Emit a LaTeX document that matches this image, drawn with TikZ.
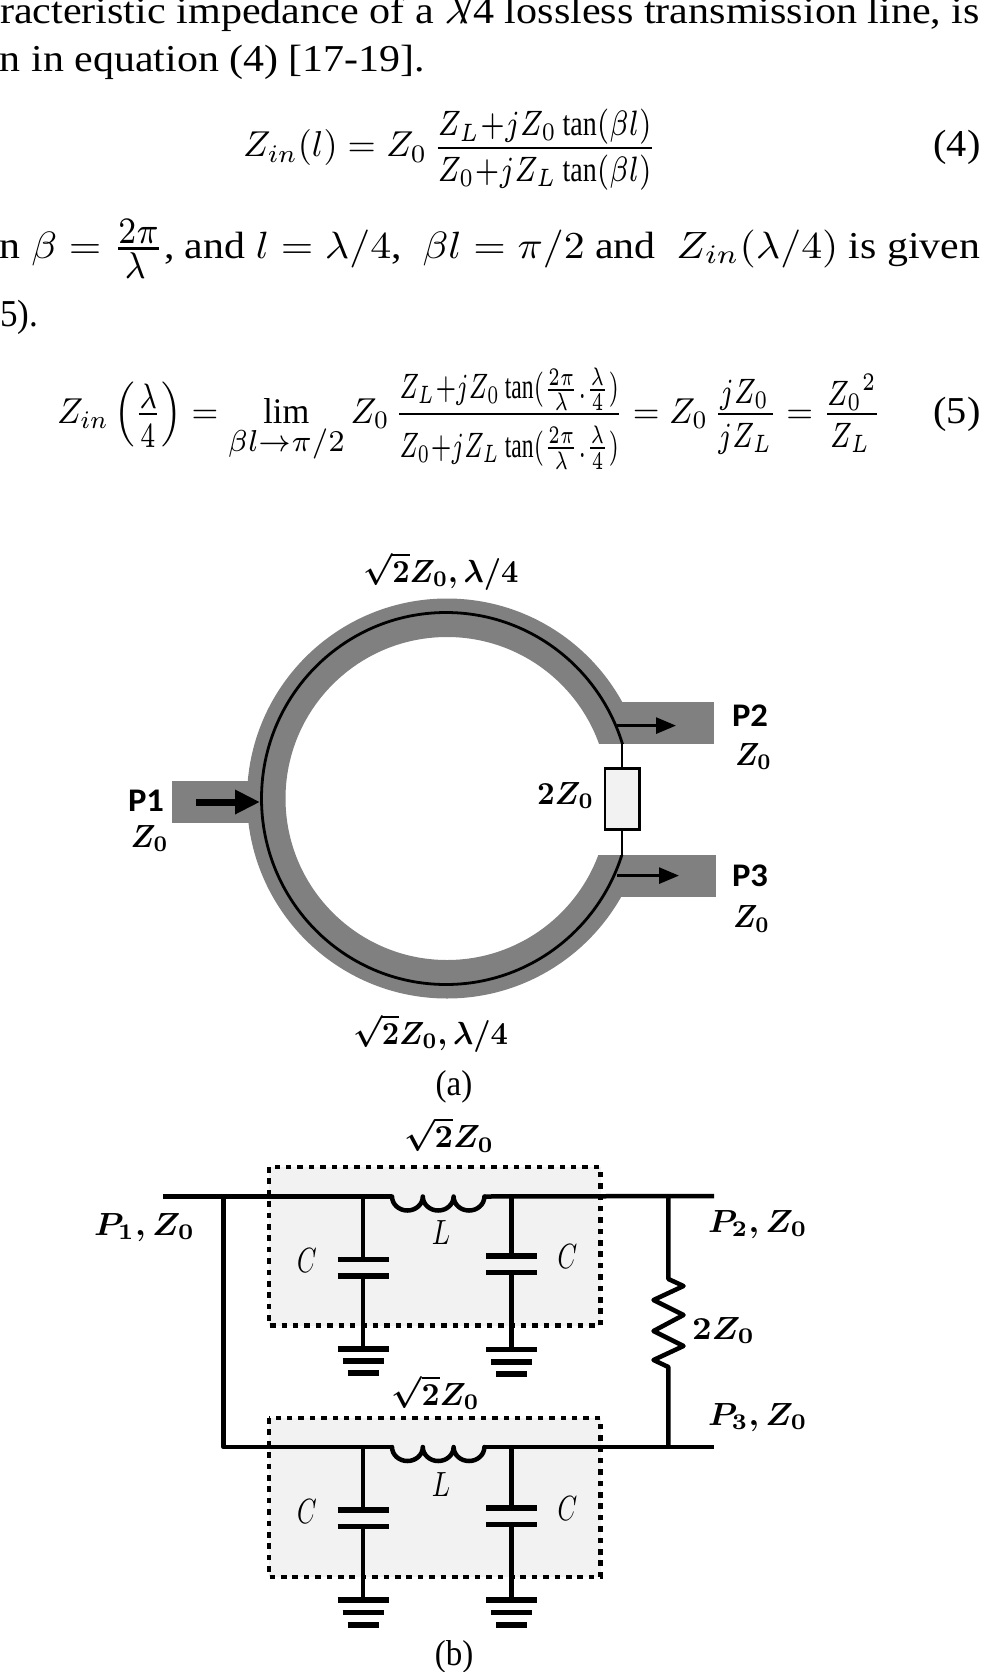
\documentclass[tikz,border=0pt]{standalone}
\usepackage{graphicx}
\usepackage{amsmath}
\usepackage{fontspec}
\setmainfont{Liberation Serif}
\newfontfamily\calib{Carlito}
\usetikzlibrary{arrows.meta,calc}
\newcommand\fitw[2]{\resizebox{#1pt}{\vs\height}{#2}}
% fraction with tall narrow terms: [strut height of the denominator], hscale, numerator, denominator
\newcommand\tallfrac[4][6pt]{\genfrac{}{}{0.6pt}{}{\scalebox{#2}[1.4]{$\scriptstyle #3$}}{\scalebox{#2}[1.4]{$\scriptstyle\rule{0pt}{#1}#4$}}}
\definecolor{strip}{HTML}{808080}
\definecolor{boxfill}{HTML}{F2F2F2}
\tikzset{
  txt/.style={inner sep=0pt,outer sep=0pt,anchor=base west,text=black,font=\def\vs{3.8}},
  eqn/.style={txt,font=\def\vs{3.6}},
  lab/.style={txt,font=\def\vs{3.2}\boldmath},
  port/.style={txt,font=\def\vs{3.3}\calib\bfseries},
  capt/.style={inner sep=0pt,outer sep=0pt,anchor=center},
  stub/.style={fill=strip,draw=none},
  wire/.style={line width=4.5pt,black},
  plate/.style={line width=5.5pt,black},
  dotbox/.style={fill=boxfill,draw=none},
  dotline/.style={draw=black,line width=4.5pt,dash pattern=on 5.5pt off 5.9pt},
  thinline/.style={line width=2.8pt,black},
  bigarrow/.style={line width=7pt,-{Triangle[length=25pt,width=23pt]}},
  smallarrow/.style={line width=2.8pt,-{Triangle[length=20pt,width=16pt]}},
}
% capacitor + ground branch: name, x, wire y, plate1 y, plate2 y, ground y1, y2, y3
\newcommand\capbranch[8]{%
  \coordinate (#1t) at (#2,#3);
  \coordinate (#1a) at (#2,#4);
  \coordinate (#1b) at (#2,#5);
  \coordinate (#1g) at (#2,#6);
  \draw[wire] (#1t) -- (#1a);
  \draw[wire] (#1b) -- (#1g);
  \draw[plate] ($(#1a)+(-25.5,0)$) -- ($(#1a)+(25.5,0)$);
  \draw[plate] ($(#1b)+(-25.5,0)$) -- ($(#1b)+(25.5,0)$);
  \draw[plate] ($(#1g)+(-25.5,0)$) -- ($(#1g)+(25.5,0)$);
  \draw[plate] (#2-20.5,#7) -- (#2+20.5,#7);
  \draw[plate] (#2-15.5,#8) -- (#2+15.5,#8);
}
\newcommand\inductor[1]{%
  \draw[wire,line cap=round,line join=round] (#1a) arc[start angle=180,end angle=0,x radius=15.4,y radius=14]
     arc[start angle=180,end angle=0,x radius=15.4,y radius=14]
     arc[start angle=180,end angle=0,x radius=15.4,y radius=14] coordinate (#1b);
}
\begin{document}
\begin{tikzpicture}[x=1pt,y=-1pt]
\useasboundingbox (0,0) rectangle (989,1672);
\clip (0,0) rectangle (989,1672);
\fill[white] (0,0) rectangle (989,1672);

% ---------- running text and equations
\node[txt] (l1) at (0,24) {\fitw{980}{racteristic impedance of a $\lambda$\kern-2pt/\kern0.3pt4 lossless transmission line, is}};
\node[txt] (l2) at (0,71.5) {\fitw{425}{n in equation (4) [17-19].}};
\node[eqn] (e4) at (243,157) {\fitw{413}{$Z_{in}(l)=Z_0\,\tallfrac{1.1}{Z_L+jZ_0\tan(\beta l)}{Z_0+jZ_L\tan(\beta l)}$}};
\node[txt] (n4) at (933.5,157) {\fitw{47}{(4)}};
\node[txt] (l3) at (0,258) {\fitw{980}{n $\beta=\tallfrac[5pt]{1.1}{2\pi}{\lambda}$, and $l=\lambda/4$,\ \ $\beta l=\pi/2$ and\ \ $Z_{in}(\lambda/4)$ is given}};
\node[txt] (l4) at (0,326) {\fitw{38}{5).}};
\node[eqn] (e5) at (57,423) {\fitw{824}{$Z_{in}\left(\tallfrac{1.1}{\lambda}{4}\right)=\lim\limits_{\scalebox{1.2}{$\scriptstyle\beta l\to\pi/2$}}Z_0\,\tallfrac[7.9pt]{0.98}{Z_L+jZ_0\tan(\frac{2\pi}{\lambda}.\frac{\lambda}{4})}{Z_0+jZ_L\tan(\frac{2\pi}{\lambda}.\frac{\lambda}{4})}=Z_0\,\tallfrac{1.1}{jZ_0}{jZ_L}=\tallfrac{1.1}{{Z_0}^{2}}{Z_L}$}};
\node[txt] (n5) at (933.5,423) {\fitw{47}{(5)}};

% ---------- (a) ring
\coordinate (ringc) at (447,798.5);
\fill[stub,even odd rule] (ringc) circle[radius=200] (ringc) circle[radius=161.5];
\fill[stub] (172,780.5) rectangle (252,822.5);
\fill[stub] (616,701.5) rectangle (713.5,743.5);
\fill[stub] (616,854.8) rectangle (716,897);
\draw[thinline] (446,798.5) ellipse[x radius=184.5,y radius=186];
\fill[white] (585,743.5) rectangle (660,854.8);
\coordinate (ringup) at (622,743.5);
\coordinate (ringdn) at (622,854.8);
\node[draw=black,line width=2.5pt,fill=boxfill,minimum width=34.5pt,minimum height=61pt,inner sep=0pt] (rz) at (622,799) {};
\draw[thinline] (ringup) -- (rz.north);
\draw[thinline] (rz.south) -- (ringdn);
\coordinate (a1s) at (196,802); \coordinate (a1e) at (260,802);
\coordinate (a2s) at (617,725.6); \coordinate (a2e) at (676,725.6);
\coordinate (a3s) at (617,875.6); \coordinate (a3e) at (679,875.6);
\draw[bigarrow] (a1s) -- (a1e);
\draw[smallarrow] (a2s) -- (a2e);
\draw[smallarrow] (a3s) -- (a3e);

\node[lab] (ringt) at (363.5,582) {\fitw{155}{$\sqrt{2}Z_0,\lambda/4$}};
\node[lab] (ringb) at (353,1044) {\fitw{155}{$\sqrt{2}Z_0,\lambda/4$}};
\node[port] (p1) at (128,811) {\fitw{36}{P1}};
\node[lab] (z1) at (130.5,847) {\fitw{38}{$Z_0$}};
\node[port] (p2) at (732,726.5) {\fitw{36}{P2}};
\node[lab] (z2) at (735,765) {\fitw{37}{$Z_0$}};
\node[port] (p3) at (732,886) {\fitw{36}{P3}};
\node[lab] (z3) at (733,927.5) {\fitw{37}{$Z_0$}};
\node[lab] (rzl) at (537,804) {\fitw{57}{$2Z_0$}};
\node[capt] (capa) at (454,1087) {\scalebox{3.3}[3.6]{(a)}};

% ---------- (b) circuit
\fill[dotbox] (269,1167) rectangle (600.5,1325.5);
\fill[dotbox] (269,1418) rectangle (600.5,1577);

\coordinate (t0) at (163,1196.5);
\coordinate (tj) at (223.5,1196.5);
\coordinate (tr) at (714,1196);
\coordinate (bj) at (223.5,1447);
\coordinate (br) at (714,1447);
\coordinate (tLa) at (392,1196.5);
\coordinate (bLa) at (392,1447);
\inductor{tL}
\inductor{bL}
\draw[wire] (t0) -- (tLa);
\draw[wire] (tLb) -- (tr);
\draw[wire,line join=round] (tj) -- (bj) -- (bLa);
\draw[wire] (bLb) -- (br);

\capbranch{c1}{363}{1196.5}{1259.5}{1276}{1349}{1361}{1373}
\capbranch{c2}{511.5}{1196}{1256}{1272.6}{1349.6}{1362}{1374}
\capbranch{c3}{363}{1447}{1510}{1526.6}{1600}{1612.4}{1625}
\capbranch{c4}{511.5}{1447}{1508}{1524.5}{1600}{1612.4}{1625}

\coordinate (rtop) at (668.4,1196);
\coordinate (rbot) at (668.4,1447);
\draw[wire,line join=round] (rtop) -- (668.4,1279) -- (683.5,1286) -- (653.5,1300) -- (683.5,1315) -- (653.5,1331) -- (683.5,1346) -- (653.5,1360) -- (668.4,1367) -- (rbot);

\draw[dotline] (269,1167) rectangle (600.5,1325.5);
\draw[dotline] (269,1418) rectangle (600.5,1577);

\node[lab] (s1) at (404,1147.4) {\fitw{90}{$\sqrt{2}Z_0$}};
\node[lab] (s2) at (391.5,1405) {\fitw{88}{$\sqrt{2}Z_0$}};
\node[lab] (pp1) at (94,1235) {\fitw{101}{$P_1,Z_0$}};
\node[lab] (pp2) at (708,1232) {\fitw{99.5}{$P_2,Z_0$}};
\node[lab] (pp3) at (708,1425) {\fitw{99.5}{$P_3,Z_0$}};
\node[lab] (rl) at (692,1339) {\fitw{63}{$2Z_0$}};
\node[capt] (L1) at (441,1233) {\scalebox{2.7}[3.5]{$L$}};
\node[capt] (L2) at (441,1485) {\scalebox{2.7}[3.5]{$L$}};
\node[capt] (C1) at (307,1260.6) {\scalebox{2.5}[3.5]{$C$}};
\node[capt] (C2) at (567.5,1257) {\scalebox{2.5}[3.5]{$C$}};
\node[capt] (C3) at (307,1511.7) {\scalebox{2.5}[3.5]{$C$}};
\node[capt] (C4) at (567.5,1509) {\scalebox{2.5}[3.5]{$C$}};
\node[capt] (capb) at (454,1656.6) {\scalebox{3.3}[3.6]{(b)}};
\end{tikzpicture}
\end{document}
